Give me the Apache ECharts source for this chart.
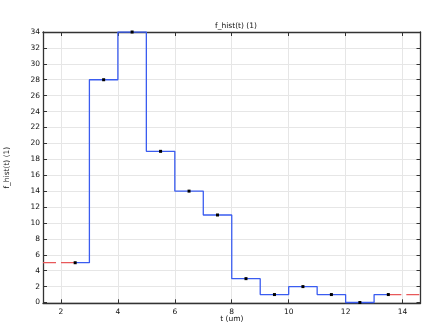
<!DOCTYPE html>
<html><head><meta charset="utf-8">
<script src="https://cdn.jsdelivr.net/npm/echarts@6/dist/echarts.min.js"></script>
<style>html,body{margin:0;padding:0;background:#fff}#c{width:426px;height:327px}</style>
</head><body><div id="c"></div>
<script>
const binCenters = [2.5, 3.5, 4.5, 5.5, 6.5, 7.5, 8.5, 9.5, 10.5, 11.5, 12.5, 13.5];
const counts = [5, 28, 34, 19, 14, 11, 3, 1, 2, 1, 0, 1];
const xTicks = [2, 4, 6, 8, 10, 12, 14];
const yTicks = [0, 2, 4, 6, 8, 10, 12, 14, 16, 18, 20, 22, 24, 26, 28, 30, 32, 34];
const xMin = 1.37, xMax = 14.63, yMin = -0.1, yMax = 34;
const leftExtrap = [[xMin, counts[0]], [binCenters[0], counts[0]]];
const rightExtrap = [[binCenters[binCenters.length-1], counts[counts.length-1]], [xMax, counts[counts.length-1]]];
const mainData = binCenters.map((x, i) => [x, counts[i]]);

const font = 'DejaVu Sans';
const lab = {fontFamily: font, fontSize: 7.5, color: '#111'};
const chart = echarts.init(document.getElementById('c'), null, {renderer: 'canvas'});
const axLine = {show: true, onZero: false, lineStyle: {color: '#333', width: 1.3}};
chart.setOption({
  animation: false,
  title: {text: 'f_hist(t) (1)', left: 231, top: 17, textAlign: 'center',
    textStyle: {fontFamily: font, fontSize: 7.5, fontWeight: 'normal', color: '#111'}},
  grid: {left: 43, right: 5.5, top: 32, bottom: 23.7, containLabel: false, outerBoundsMode: 'none'},
  xAxis: [
    {type: 'value', min: xMin, max: xMax, position: 'bottom',
     name: 't (um)', nameLocation: 'middle', nameGap: 12, nameMoveOverlap: false, nameTextStyle: lab,
     axisLine: axLine,
     axisTick: {show: true, inside: true, length: 4, customValues: xTicks, lineStyle: {color: '#333'}},
     axisLabel: {customValues: xTicks, margin: 5, ...lab},
     splitLine: {show: true, lineStyle: {color: '#e6e6e6', width: 1}}},
    {type: 'value', min: xMin, max: xMax, position: 'top',
     axisLine: axLine,
     axisTick: {show: true, inside: true, length: 4, customValues: xTicks, lineStyle: {color: '#333'}},
     axisLabel: {show: false}, splitLine: {show: false}}
  ],
  yAxis: [
    {type: 'value', min: yMin, max: yMax, position: 'left',
     name: 'f_hist(t) (1)', nameLocation: 'middle', nameGap: 32, nameMoveOverlap: false, nameRotate: 90, nameTextStyle: lab,
     axisLine: axLine,
     axisTick: {show: true, inside: true, length: 4, customValues: yTicks, lineStyle: {color: '#333'}},
     axisLabel: {customValues: yTicks, margin: 3, ...lab},
     splitLine: {show: true, lineStyle: {color: '#e6e6e6', width: 1}}},
    {type: 'value', min: yMin, max: yMax, position: 'right',
     axisLine: axLine,
     axisTick: {show: true, inside: true, length: 4, customValues: yTicks, lineStyle: {color: '#333'}},
     axisLabel: {show: false}, splitLine: {show: false}}
  ],
  series: [
    {type: 'line', data: leftExtrap, showSymbol: false, symbol: 'none',
     lineStyle: {color: '#e8585a', width: 1.3, type: [13, 5]}, z: 2},
    {type: 'line', data: rightExtrap, showSymbol: false, symbol: 'none',
     lineStyle: {color: '#e8585a', width: 1.3, type: [13, 5]}, z: 2},
    {type: 'line', data: mainData, step: 'middle', symbol: 'rect', symbolSize: 3,
     itemStyle: {color: '#000'}, lineStyle: {color: '#3a5cf0', width: 1.3}, z: 3}
  ]
});
</script></body></html>
